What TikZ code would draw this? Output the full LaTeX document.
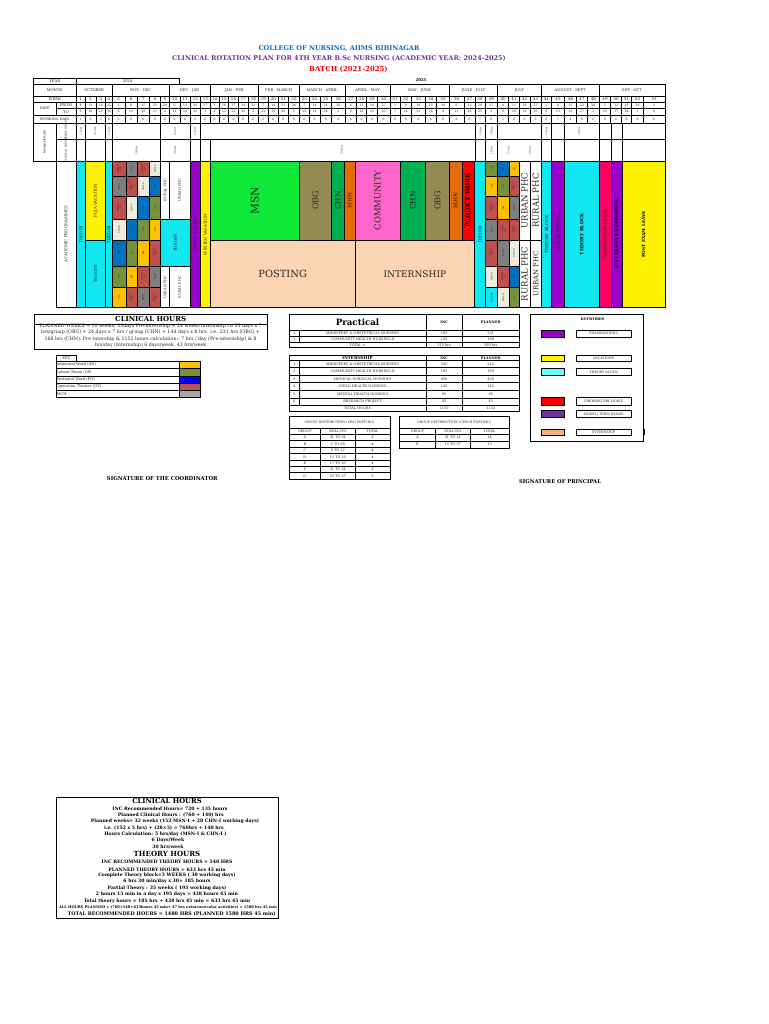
\documentclass[tikz,border=0pt]{standalone}
\usepackage{fontspec}
\setmainfont{DejaVu Serif}
\usetikzlibrary{calc}
\definecolor{cyanB}{HTML}{12E8F2}
\definecolor{purpB}{HTML}{9900CC}
\definecolor{peach}{HTML}{FBD4B4}
\definecolor{msngreen}{HTML}{10E838}
\definecolor{chngreen}{HTML}{00B050}
\definecolor{olive}{HTML}{948A54}
\definecolor{mhnor}{HTML}{E36C0A}
\definecolor{pinkC}{HTML}{FF66CC}
\definecolor{rosered}{HTML}{FF0066}
\definecolor{amb}{HTML}{FFC000}
\definecolor{grn}{HTML}{76923C}
\definecolor{blu}{HTML}{0070C0}
\definecolor{rd}{HTML}{C0504D}
\definecolor{gry}{HTML}{7F7F7F}
\definecolor{crm}{HTML}{EEECE1}
\definecolor{titleblue}{HTML}{0070C0}
\definecolor{titlepurple}{HTML}{7030A0}
\definecolor{inkgray}{HTML}{262626}
\definecolor{keycyan}{HTML}{66FFFF}
\definecolor{keypeach}{HTML}{F4B183}
\definecolor{keygrey}{HTML}{A6A6A6}
\newcommand{\fs}[1]{\fontsize{#1}{#1}\selectfont}
\newcounter{nn}
% text node: [options]{x}{y}{text}
\newcommand{\tx}[4][]{\stepcounter{nn}\node[txt,#1] (n\thenn) at (#2,#3) {#4};}
% filled cell with centred text: [node options]{x1}{y1}{x2}{y2}{fill}{text}
\newcommand{\cbx}[7][]{\draw[gridline,fill=#6] (#2,#3) rectangle (#4,#5);\stepcounter{nn}\node[txt,#1] (n\thenn) at ($(#2,#3)!.5!(#4,#5)$) {#7};}
\tikzset{
  gridline/.style={draw=black,line width=.62pt},
  txt/.style={inner sep=0pt,outer sep=0pt,align=center,text=inkgray},
  rot/.style={rotate=90},
  sz/.style={font=\fs{#1}},
  bsz/.style={font=\fs{#1}\bfseries,text=black},
}
\newcommand{\bl}[3][167]{\tx[bsz=3.45]{#1}{#2}{#3}}
\begin{document}
\begin{tikzpicture}[x=.75pt,y=-.75pt]
\useasboundingbox (0,0) rectangle (768,1024);
% ---------- title
\tx[bsz=4.9,text=titleblue]{339}{49}{COLLEGE OF NURSING, AIIMS BIBINAGAR}
\tx[bsz=4.9,text=titlepurple]{339}{59}{CLINICAL ROTATION PLAN FOR 4TH YEAR B.Sc NURSING (ACADEMIC YEAR: 2024-2025)}
\tx[bsz=5.2,text=red]{348.5}{69}{BATCH (2021-2025)}
% ---------- header labels
\cbx[sz=2.8]{33.5}{78}{76}{84.5}{white}{YEAR}
\cbx[sz=2.8]{76}{78}{179.5}{84.5}{white}{2024}
\tx[bsz=2.9]{421}{80.5}{2025}
\cbx[sz=2.8]{33.5}{84.5}{76}{96}{white}{MONTH}
\foreach \l/\r/\m in {76/112.3/OCTOBER,112.3/169.3/NOV - DEC,169.3/210/DEC - JAN,210/258.3/JAN - FEB,258.3/299.3/FEB - MARCH,299.3/345/MARCH - APRIL,345/390/APRIL - MAY,390/449.3/MAY - JUNE,449.3/497.7/JUNE - JULY,497.7/541/JULY,541/599.3/AUGUST - SEPT,599.3/665/SEP - OCT}{
  \cbx[sz=2.8]{\l}{84.5}{\r}{96}{white}{\m}
}
\cbx[sz=2.8]{33.5}{96}{76}{102.2}{white}{WEEK}
\cbx[sz=2.6]{33.5}{102.2}{56}{115}{white}{DATE}
\cbx[sz=2.8]{56}{102.2}{76}{108.6}{white}{FROM}
\cbx[sz=2.8]{56}{108.6}{76}{115}{white}{TO}
\cbx[sz=2.6]{33.5}{115}{76}{123}{white}{WORKING DAYS}
\foreach \l/\r/\w/\f/\t/\d in {
76.3/85/1/4/9/1,85/96/2/11/16/0,96/105.7/3/18/23/3,105.7/112.3/4/25/30/6,
112.3/125/5/1/6/2,125/137.3/6/8/13/6,137.3/149.3/7/15/20/6,149.3/160.7/8/22/27/6,160.7/169.3/9/29/4/6,
169.3/180/10/6/11/6,180/190/11/13/18/6,190/200.7/12/20/25/5,200.7/210/13/27/1/6,
210/219.3/14/3/8/6,219.3/228.7/15/10/15/6,228.7/238.3/16/17/22/6,238.3/248.3/17/24/29/6,248.3/258.3/18/31/5/6,
258.3/268.3/19/7/12/6,268.3/278.3/20/14/19/6,278.3/288.3/21/21/26/6,288.3/299.3/22/28/5/6,
299.3/309.3/23/7/12/6,309.3/320/24/14/19/6,320/331.7/25/21/26/6,331.7/345/26/28/2/6,
345/356.7/27/4/9/6,356.7/366.7/28/11/16/6,366.7/377.3/29/18/23/6,377.3/390/30/25/30/6,
390/400/31/2/7/6,400/411.7/32/9/14/6,411.7/425/33/16/21/6,425/436.7/34/23/28/6,436.7/449.3/35/30/4/6,
449.3/464/36/6/11/6,464/475/37/13/18/6,475/485/38/20/25/7,485/497.7/39/27/2/6,
497.7/508.7/40/4/9/5,508.7/519.3/41/11/16/6,519.3/530/42/18/23/6,530/541/43/25/30/6,
541/551.7/44/1/6/6,551.7/564.3/45/8/13/7,564.3/576.7/46/15/20/4,576.7/587.3/47/22/27/6,587.3/599.3/48/29/3/6,
599.3/610.7/49/5/10/6,610.7/621.7/50/12/17/6,621.7/631.7/51/19/24/6,631.7/643.3/52/26/1/6,643.3/665/53/3/8/6}{
  \cbx[sz=3]{\l}{96}{\r}{102.2}{white}{\w}
  \cbx[sz=2.3]{\l}{102.2}{\r}{108.6}{white}{\f}
  \cbx[sz=2.3]{\l}{108.6}{\r}{115}{white}{\t}
  \cbx[sz=2.3]{\l}{115}{\r}{123}{white}{\d}
}
% ---------- work hours rows
\cbx[sz=2.4,rot]{33.5}{123}{56}{161}{white}{WORKHOURS}
\cbx[sz=2,rot]{56}{123}{76}{139}{white}{THEORY HOURS}
\cbx[sz=2,rot]{56}{139}{76}{161}{white}{CLINICAL HOURS}
\draw[gridline] (76,123) rectangle (665,139);
\draw[gridline] (76,139) rectangle (665,161);
\foreach \x in {85,105.7,112.3,160.7,190,200.7,475,485.7,497.7,541.7,551.7,564.3,599.3,611,622}{
  \draw[gridline] (\x,123) -- (\x,161);
}
\draw[gridline] (210,139) -- (210,161);
\foreach \x/\t in {80.6/12 hrs,95.3/21 hrs,109/12 hrs,175/42 hrs,195/14 hrs,480.3/14 hrs,491.7/28 hrs,546.5/14 hrs,579/28 hrs}{
  \tx[sz=1.9,rot]{\x}{131}{\t}
}
\foreach \x/\t in {136.5/36 hrs,175/36 hrs,341.7/138 hrs,491.7/14 hrs,508.3/27 hrs,530/36 hrs}{
  \tx[sz=1.9,rot]{\x}{150}{\t}
}
% ---------- academic programmes
\cbx[sz=3,rot]{56}{161}{76}{307.7}{white}{ACADEMIC PROGRAMMES}
\cbx[sz=3,rot]{76}{161}{85.7}{307.7}{cyanB}{THEORY}
\cbx[sz=3,rot]{85.7}{161}{105.7}{240}{yellow}{PUJA VACATION}
\cbx[sz=3,rot]{85.7}{240}{105.7}{307.7}{cyanB}{THEORY}
\cbx[sz=3,rot]{105.7}{161}{112.3}{307.7}{cyanB}{THEORY}
% rotation blocks: amber AN, green LR, blue PN, red OT, grey MCH, cream CHN
\def\ya{161}\def\yb{176.7}\def\yc{196.7}\def\yd{219}\def\ye{240}\def\yf{266}\def\yg{287.7}\def\yh{307.7}
\foreach \xl/\xr/\cA/\tA/\cB/\tB/\cC/\tC/\cD/\tD/\cE/\tE/\cF/\tF/\cG/\tG in {
112.3/126/rd/CHN-II\\OT/gry/MCH/rd/CHN-II\\OT/crm/CHN-II/blu/PN/grn/LR/amb/AN,
126/137.3/gry/MCH/rd/CHN-II\\OT/crm/CHN-II/blu/PN/grn/LR/amb/AN/rd/CHN-II\\OT,
137.3/149.3/rd/CHN-II\\OT/crm/CHN-II/blu/PN/grn/LR/amb/AN/rd/CHN-II\\OT/gry/MCH,
149.3/160.7/crm/CHN-II/blu/PN/grn/LR/amb/AN/rd/CHN-II\\OT/gry/MCH/rd/CHN-II\\OT,
485.7/497.7/grn/LR/amb/AN/rd/CHN-II\\OT/gry/MCH/rd/CHN-II\\OT/crm/CHN-II/cyanB/THEORY,
497.7/509/blu/PN/grn/LR/amb/AN/rd/CHN-II\\OT/gry/MCH/rd/CHN-II\\OT/crm/CHN-II,
509/519/amb/AN/rd/CHN-II\\OT/gry/MCH/rd/CHN-II\\OT/crm/CHN-II/blu/PN/grn/LR}{
  \cbx[sz=1.7,rot]{\xl}{\ya}{\xr}{\yb}{\cA}{\tA}
  \cbx[sz=1.7,rot]{\xl}{\yb}{\xr}{\yc}{\cB}{\tB}
  \cbx[sz=1.7,rot]{\xl}{\yc}{\xr}{\yd}{\cC}{\tC}
  \cbx[sz=1.7,rot]{\xl}{\yd}{\xr}{\ye}{\cD}{\tD}
  \cbx[sz=1.7,rot]{\xl}{\ye}{\xr}{\yf}{\cE}{\tE}
  \cbx[sz=1.7,rot]{\xl}{\yf}{\xr}{\yg}{\cF}{\tF}
  \cbx[sz=1.7,rot]{\xl}{\yg}{\xr}{\yh}{\cG}{\tG}
}
\cbx[sz=2.6,rot]{160.7}{161}{169.3}{219}{white}{RURAL PHC}
\cbx[sz=2.6,rot]{169.3}{161}{190}{219}{white}{URBAN PHC}
\cbx[sz=3,rot]{160.7}{219}{190}{266.7}{cyanB}{THEORY}
\cbx[sz=2.6,rot]{160.7}{266.7}{169.3}{307.7}{white}{URBAN PHC}
\cbx[sz=2.6,rot]{169.3}{266.7}{190}{307.7}{white}{RURAL PHC}
\cbx[sz=3,rot]{190}{161}{200.7}{307.7}{purpB}{TERM - I EXAM}
\cbx[sz=3,rot]{200.7}{161}{210}{307.7}{yellow}{WINTER VACATION}
% ---------- big blocks
\cbx[sz=8,rot]{210}{161}{299.3}{240}{msngreen}{MSN}
\cbx[sz=6,rot]{299.3}{161}{331.7}{240}{olive}{OBG}
\cbx[sz=5.6,rot]{331.7}{161}{344}{240}{chngreen}{CHN}
\cbx[sz=4.2,rot]{344}{161}{355.3}{240}{mhnor}{MHN}
\cbx[sz=6.3,rot]{355.3}{161}{400}{240}{pinkC}{COMMUNITY}
\cbx[sz=5.6,rot]{400}{161}{425.7}{240}{chngreen}{CHN}
\cbx[sz=6,rot]{425.7}{161}{449}{240}{olive}{OBG}
\cbx[sz=4.2,rot]{449}{161}{462.3}{240}{mhnor}{MHN}
\cbx[bsz=4.4,rot]{462.3}{161}{474.5}{240}{red}{PROJECT WORK}
\cbx[sz=7.4]{210}{240}{355.3}{307.7}{peach}{POSTING}
\cbx[sz=6.8]{355.3}{240}{474.5}{307.7}{peach}{INTERNSHIP}
\cbx[sz=3,rot]{474.5}{161}{485.7}{307.7}{cyanB}{THEORY}
\cbx[sz=6.4,rot]{519}{161}{530}{240}{white}{URBAN PHC}
\cbx[sz=6.4,rot]{530}{161}{541.7}{240}{white}{RURAL PHC}
\cbx[sz=6.4,rot]{519}{240}{530}{307.7}{white}{RURAL PHC}
\cbx[sz=5.2,rot]{530}{240}{541.7}{307.7}{white}{URBAN PHC}
\cbx[sz=3.4,rot]{541.7}{161}{551.7}{307.7}{cyanB}{THEORY BLOCK}
\cbx[sz=3.4,rot]{551.7}{161}{564.3}{307.7}{purpB}{MODEL EXAM}
\cbx[bsz=3.4,rot]{564.3}{161}{599.3}{307.7}{cyanB}{THEORY BLOCK}
\cbx[sz=3.2,rot]{599.3}{161}{611}{307.7}{rosered}{PREPARATORY LEAVE}
\cbx[bsz=3.2,rot]{611}{161}{622}{307.7}{purpB}{UNIVERSITY EXAMINATION}
\cbx[bsz=3.2,rot]{622}{161}{665}{307.7}{yellow}{POST EXAM LEAVE}
% ---------- clinical hours box
\cbx[bsz=5.2]{34}{314.3}{267.3}{324}{white}{CLINICAL HOURS}
\draw[gridline] (34,324) rectangle (267.3,349.3);
\tx[sz=3.55]{150.6}{326}{PLANNED WEEKS = 10 weeks; 33days Pre-internship + 24 weeks internship i.e 33 days x 7}
\tx[sz=3.55]{150.6}{332.2}{hrs/group (OBG) + 24 days x 7 hrs / group (CHN) + 144 days x 8 hrs. i.e. 231 hrs (OBG) +}
\tx[sz=3.55]{150.6}{338.8}{168 hrs (CHN). Pre-intership \& 1152 hours calculation:- 7 hrs / day (Pre-internship) \& 8}
\tx[sz=3.55]{150.6}{345}{hrs/day (Internship) 6 days/week, 42 hrs/week}
% ---------- key
\cbx[sz=2.8]{56}{355}{76.7}{361}{white}{KEY}
\foreach \a/\b/\c/\t in {361/368.7/amb/Antenatal Ward (AN),368.7/376/grn/Labour Room (LR),376/383.3/blue/Postnatal Ward (PN),383.3/390/rd/Operation Theater (OT),390/397.7/keygrey/MCH}{
  \draw[gridline] (56,\a) rectangle (179.3,\b);
  \draw[gridline,fill=\c] (179.3,\a) rectangle (200,\b);
  \tx[sz=2.8,anchor=west]{56.6}{{(\a+\b)/2}}{\t}
}
\tx[bsz=4]{162.3}{478.3}{SIGNATURE OF THE COORDINATOR}
% ---------- practical table
\cbx[bsz=6.5]{289}{314.3}{426}{330.7}{white}{Practical}
\cbx[bsz=2.6]{426}{314.3}{462.3}{330.7}{white}{INC}
\cbx[bsz=2.6]{462.3}{314.3}{519.3}{330.7}{white}{PLANNED}
\foreach \a/\b/\n/\t/\i/\p in {330.7/336.7/1/MIDWIFERY \& OBSTETRICAL NURSING/180/231,336.7/342.3/2/COMMUNITY  HEALTH NURSING-II/135/168}{
  \cbx[sz=2.6]{289}{\a}{299.3}{\b}{white}{\n}
  \cbx[sz=2.6]{299.3}{\a}{426}{\b}{white}{\t}
  \cbx[sz=2.6]{426}{\a}{462.3}{\b}{white}{\i}
  \cbx[sz=2.6]{462.3}{\a}{519.3}{\b}{white}{\p}
}
\cbx[sz=2.6]{289}{342.3}{426}{347.7}{white}{TOTAL =}
\cbx[sz=2.6]{426}{342.3}{462.3}{347.7}{white}{315 hrs}
\cbx[sz=2.6]{462.3}{342.3}{519.3}{347.7}{white}{399 hrs}
% ---------- internship table
\cbx[bsz=3]{289}{355}{426}{360.7}{white}{INTERNSHIP}
\cbx[bsz=2.6]{426}{355}{462.3}{360.7}{white}{INC}
\cbx[bsz=2.6]{462.3}{355}{519.3}{360.7}{white}{PLANNED}
\foreach \a/\b/\n/\t/\i/\p in {360.7/367.3/1/MIDWIFERY \& OBSTETRICAL NURSING/240/242,367.3/375/2/COMMUNITY  HEALTH NURSING-II/195/193,375/382.7/3/MEDICAL SURGICAL NURSING/430/430,382.7/390.7/4/CHILD HEALTH NURSING/145/145,390.7/398.3/5/MENTAL HEALTH NURSING/95/95,398.3/405/6/RESEARCH PROJECT/45/45}{
  \cbx[sz=2.6]{289}{\a}{299.3}{\b}{white}{\n}
  \cbx[sz=2.6]{299.3}{\a}{426}{\b}{white}{\t}
  \cbx[sz=2.6]{426}{\a}{462.3}{\b}{white}{\i}
  \cbx[sz=2.6]{462.3}{\a}{519.3}{\b}{white}{\p}
}
\cbx[sz=2.6]{289}{405}{426}{411}{white}{TOTAL HOURS}
\cbx[sz=2.6]{426}{405}{462.3}{411}{white}{1150}
\cbx[sz=2.6]{462.3}{405}{519.3}{411}{white}{1152}
% ---------- group tables
\cbx[sz=2.5]{289}{416.7}{390}{428}{white}{GROUP DISTRIBUTION (OBG POSTING)}
\foreach \a/\b/\g/\r/\t in {428/434.4/GROUP/ROLL NO/TOTAL,434.4/440.8/A/01 TO 04/4,440.8/447.3/B/5 TO 08/4,447.3/453.7/C/9 TO 12/4,453.7/460.1/D/13 TO 16/4,460.1/466.5/E/17 TO 20/4,466.5/472.9/F/21 TO 24/4,472.9/479.3/G/25 TO 27/3}{
  \cbx[sz=2.6]{289}{\a}{320.7}{\b}{white}{\g}
  \cbx[sz=2.6]{320.7}{\a}{355}{\b}{white}{\r}
  \cbx[sz=2.6]{355}{\a}{390}{\b}{white}{\t}
}
\cbx[sz=2.5]{399.3}{416.7}{509}{428}{white}{GROUP DISTRIBUTION (CHN-II POSTING)}
\foreach \a/\b/\g/\r/\t in {428/434/GROUP/ROLL NO/TOTAL,434/441/A/01 TO 14/14,441/448.3/B/15 TO 27/13}{
  \cbx[sz=2.6]{399.3}{\a}{435.7}{\b}{white}{\g}
  \cbx[sz=2.6]{435.7}{\a}{470}{\b}{white}{\r}
  \cbx[sz=2.6]{470}{\a}{509}{\b}{white}{\t}
}
% ---------- keywords
\draw[gridline] (530,314.3) rectangle (643.3,441);
\tx[bsz=2.6]{592.7}{319.3}{KEYWORDS}
\foreach \a/\b/\c/\t in {330/337.3/purpB/EXAMINATIONS,355/361.7/yellow/VACATIONS,368.3/375.7/keycyan/THEORY BLOCK,397.7/405/red/PREPARATORY LEAVE,410.7/417.3/titlepurple/{MODEL/ TERM EXAMS},429/435.7/keypeach/INTERNSHIP}{
  \draw[gridline,fill=\c] (541,\a) rectangle (564.3,\b);
  \cbx[sz=2.5]{576}{\a}{631.3}{\b}{white}{\t}
}
\draw[gridline] (644.4,428.5) -- (644.4,435);
\tx[bsz=3.95,anchor=east]{601}{481.3}{SIGNATURE OF PRINCIPAL}
% ---------- bottom box
\draw[gridline] (56,797) rectangle (278.3,918);
\tx[bsz=5.1]{167}{801}{CLINICAL HOURS}
\bl[170]{809}{INC Recommended Hours= 720 + 135 hours}
\bl[170.7]{815}{Planned Clinical Hours : (760 + 140) hrs}
\bl[175]{821.7}{Planned weeks= 32 weeks (152 MSN-I + 28 CHN-I working days)}
\bl[164]{828.3}{i.e. (152 x 5 hrs) + (28×5) = 760hrs + 140 hrs}
\bl[165.5]{834}{Hours Calculation: 5 hrs/day (MSN-I \& CHN-I )}
\bl[168]{840}{6 Days/Week}
\bl[168]{846.7}{30 hrs/week}
\tx[bsz=5.3]{167}{854.3}{THEORY HOURS}
\bl{862.3}{INC RECOMMENDED THEORY HOURS = 540 HRS}
\bl{869.3}{PLANNED THEORY HOURS = 633  hrs 45 min}
\bl{875.3}{Complete Theory block=5 WEEKS ( 30 working days)}
\bl{881.7}{6 hrs 30 min/day x 30= 185 hours}
\bl{888.7}{Partial Theory : 35 weeks ( 195 working days)}
\bl{894.7}{2 hours 15 min in a day x 195 days = 438 hours 45 min}
\bl{901}{Total theory hours =  185 hrs + 438 hrs 45 min = 633 hrs 45 min}
\tx[bsz=2.7]{168}{907.3}{ALL HOURS PLANNED = (760+140+633hours 45 min+ 47 hrs extracurricular activities) = 1580 hrs 45 min}
\tx[bsz=3.65]{171.7}{914.3}{TOTAL RECOMMENDED HOURS = 1480 HRS (PLANNED 1580 HRS 45 min)}
\end{tikzpicture}
\end{document}
